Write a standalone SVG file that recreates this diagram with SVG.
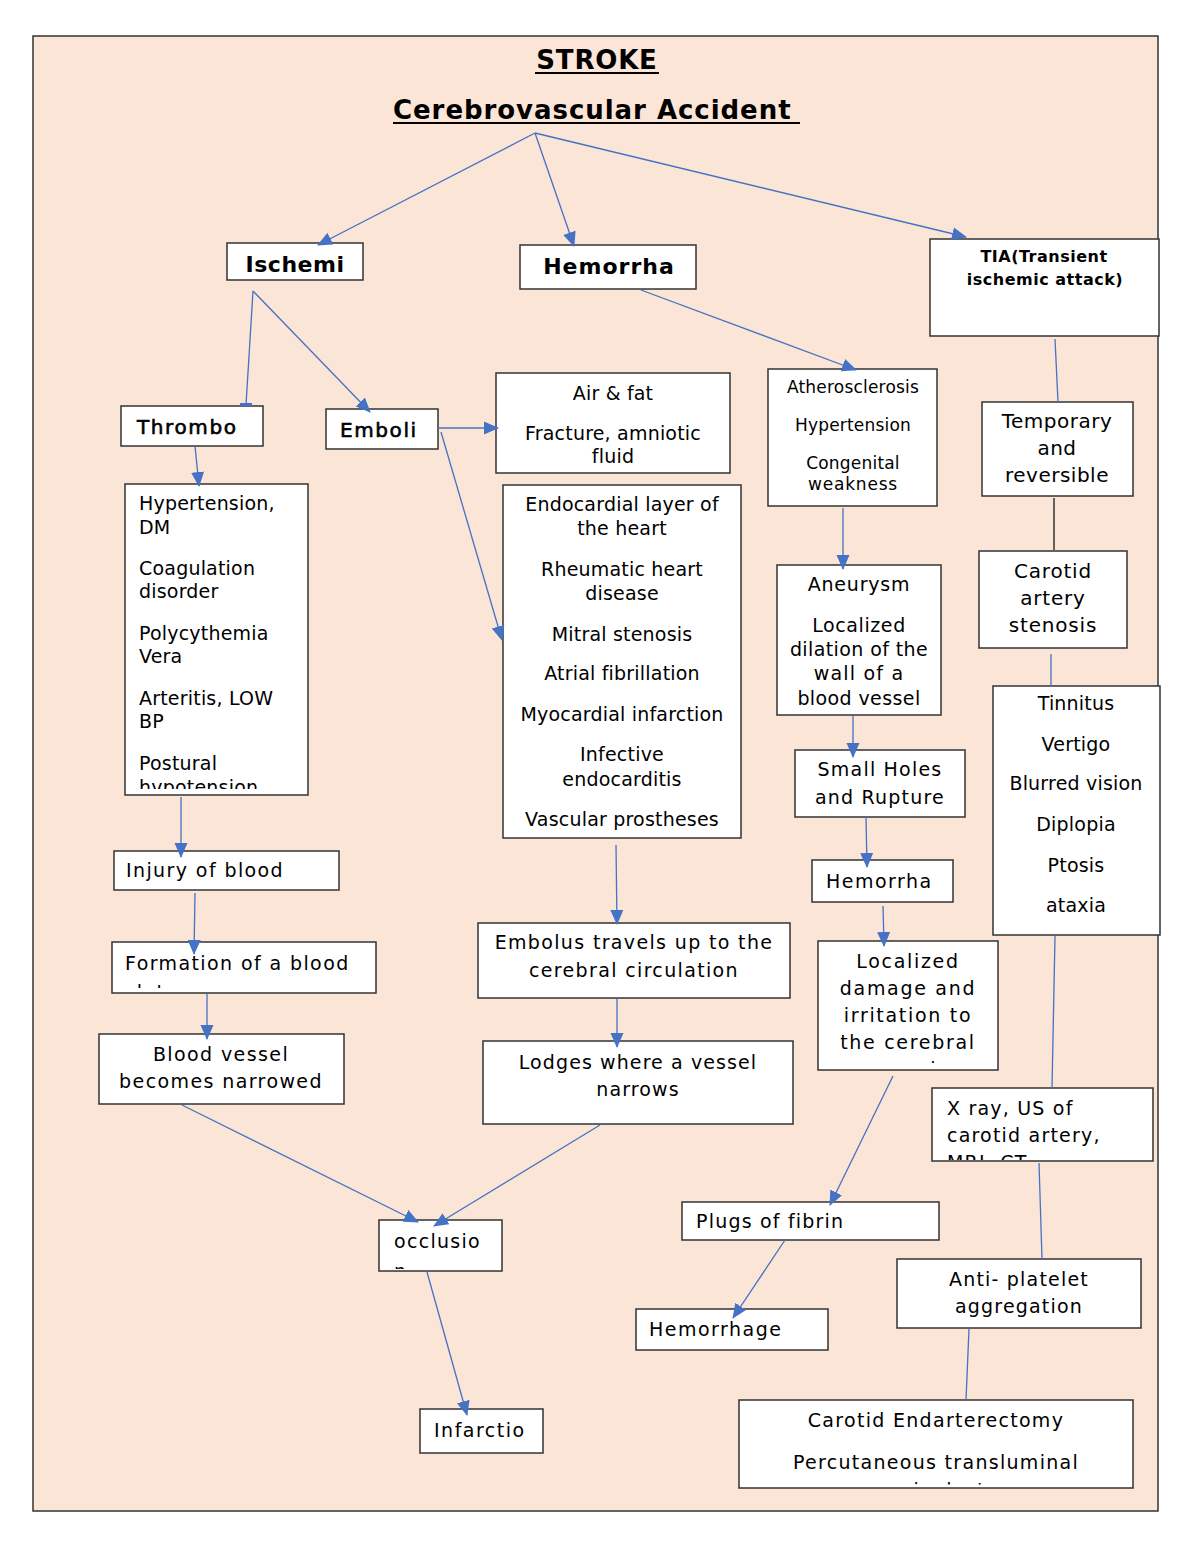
<svg xmlns="http://www.w3.org/2000/svg" width="1200" height="1553" viewBox="0 0 1200 1553">
<style>
text{font-family:"DejaVu Sans","Verdana",sans-serif;fill:#000;}
.box{fill:#fff;stroke:#333;stroke-width:1.5;}
.t{font-size:19px;}
.c{text-anchor:middle;}
.b{font-weight:bold;}
.tight{letter-spacing:0.2px;}
.con{stroke:#4472C4;stroke-width:1.3;fill:none;}
.arr{marker-end:url(#ah);}
</style>
<defs>
<marker id="ah" markerUnits="userSpaceOnUse" markerWidth="15" markerHeight="14" viewBox="0 0 15 14" refX="14" refY="7" orient="auto">
<path d="M0,0.5 L15,7 L0,13.5 z" fill="#4472C4"/>
</marker>
<clipPath id="clThr"><rect x="126" y="485" width="181" height="304"/></clipPath>
<clipPath id="clForm"><rect x="113" y="943" width="262" height="45"/></clipPath>
<clipPath id="clLoc"><rect x="819" y="942" width="178" height="121"/></clipPath>
<clipPath id="clX"><rect x="933" y="1089" width="219" height="71"/></clipPath>
<clipPath id="clOcc"><rect x="380" y="1221" width="121" height="48"/></clipPath>
<clipPath id="clCE"><rect x="740" y="1401" width="392" height="83.5"/></clipPath>
</defs>

<rect id="background" x="33" y="36" width="1125" height="1475" fill="#FBE5D6" stroke="#333" stroke-width="1.5"/>

<g id="title">
<text x="597" y="69" class="c b" font-size="26" letter-spacing="0.8">STROKE</text>
<line x1="535" y1="73" x2="659" y2="73" stroke="#000" stroke-width="2"/>
<text x="393" y="119" class="b" font-size="26" letter-spacing="0.95">Cerebrovascular Accident</text>
<line x1="393" y1="123" x2="800" y2="123" stroke="#000" stroke-width="2"/>
</g>

<g id="ischemi">
<rect class="box" x="227" y="243" width="136" height="37"/>
<text x="295" y="272" class="c b" font-size="22" letter-spacing="0.5">Ischemi</text>
</g>

<g id="hemorrha">
<rect class="box" x="520" y="245" width="176" height="44"/>
<text x="609" y="274" class="c b" font-size="22" letter-spacing="1">Hemorrha</text>
</g>

<g id="tia">
<rect class="box" x="930" y="239" width="229" height="97"/>
<text x="1044" y="262" class="c b" font-size="16" letter-spacing="0.5">TIA(Transient</text>
<text x="1045" y="285" class="c b" font-size="16" letter-spacing="0.5">ischemic attack)</text>
</g>

<g id="thrombo">
<rect class="box" x="121" y="406" width="142" height="40"/>
<text x="137" y="434" font-size="20" letter-spacing="1.6" stroke="#000" stroke-width="0.6">Thrombo</text>
</g>

<g id="emboli">
<rect class="box" x="326" y="409" width="112" height="40"/>
<text x="340" y="437" font-size="20" letter-spacing="1.6" stroke="#000" stroke-width="0.6">Emboli</text>
</g>

<g id="thrombo-causes">
<rect class="box" x="125" y="484" width="183" height="311"/>
<g clip-path="url(#clThr)" class="t tight">
<text x="139" y="510">Hypertension,</text>
<text x="139" y="534">DM</text>
<text x="139" y="575">Coagulation</text>
<text x="139" y="598">disorder</text>
<text x="139" y="640">Polycythemia</text>
<text x="139" y="663">Vera</text>
<text x="139" y="705">Arteritis, LOW</text>
<text x="139" y="728">BP</text>
<text x="139" y="770">Postural</text>
<text x="139" y="794">hypotension</text>
</g>
</g>

<g id="air-fat">
<rect class="box" x="496" y="373" width="234" height="100"/>
<text x="613" y="400" class="t c tight">Air &amp; fat</text>
<text x="613" y="440" class="t c tight">Fracture, amniotic</text>
<text x="613" y="463" class="t c tight">fluid</text>
</g>

<g id="endocardial">
<rect class="box" x="503" y="485" width="238" height="353"/>
<text x="622" y="511" class="t c tight">Endocardial layer of</text>
<text x="622" y="535" class="t c tight">the heart</text>
<text x="622" y="576" class="t c tight">Rheumatic heart</text>
<text x="622" y="600" class="t c tight">disease</text>
<text x="622" y="641" class="t c tight">Mitral stenosis</text>
<text x="622" y="680" class="t c tight">Atrial fibrillation</text>
<text x="622" y="721" class="t c tight">Myocardial infarction</text>
<text x="622" y="761" class="t c tight">Infective</text>
<text x="622" y="786" class="t c tight">endocarditis</text>
<text x="622" y="826" class="t c tight">Vascular prostheses</text>
</g>

<g id="atherosclerosis">
<rect class="box" x="768" y="369" width="169" height="137"/>
<text x="853" y="393" class="c" font-size="17" letter-spacing="0.2">Atherosclerosis</text>
<text x="853" y="431" class="c" font-size="17" letter-spacing="0.2">Hypertension</text>
<text x="853" y="469" class="c" font-size="17" letter-spacing="0.2">Congenital</text>
<text x="853" y="490" class="c" font-size="17" letter-spacing="0.8">weakness</text>
</g>

<g id="aneurysm">
<rect class="box" x="777" y="565" width="164" height="150"/>
<text x="859" y="591" class="t c" letter-spacing="0.8">Aneurysm</text>
<text x="859" y="632" class="t c" letter-spacing="0.6">Localized</text>
<text x="859" y="656" class="t c" letter-spacing="0.4">dilation of the</text>
<text x="859" y="680" class="t c" letter-spacing="1.2">wall of a</text>
<text x="859" y="705" class="t c" letter-spacing="0.4">blood vessel</text>
</g>

<g id="small-holes">
<rect class="box" x="795" y="750" width="170" height="67"/>
<text x="880" y="776" class="t c" letter-spacing="1.2">Small Holes</text>
<text x="880" y="804" class="t c" letter-spacing="1.2">and Rupture</text>
</g>

<g id="hemorrha-2">
<rect class="box" x="812" y="860" width="141" height="42"/>
<text x="826" y="888" class="t" letter-spacing="1.5">Hemorrha</text>
</g>

<g id="localized-damage">
<rect class="box" x="818" y="941" width="180" height="129"/>
<g clip-path="url(#clLoc)" class="t c" letter-spacing="1.7">
<text x="908" y="968">Localized</text>
<text x="908" y="995">damage and</text>
<text x="908" y="1022">irritation to</text>
<text x="908" y="1049">the cerebral</text>
<text x="908" y="1076">vessels</text>
</g>
</g>

<g id="plugs-fibrin">
<rect class="box" x="682" y="1202" width="257" height="38"/>
<text x="696" y="1228" class="t" letter-spacing="1.2">Plugs of fibrin</text>
</g>

<g id="hemorrhage">
<rect class="box" x="636" y="1309" width="192" height="41"/>
<text x="649" y="1336" class="t" letter-spacing="1.5">Hemorrhage</text>
</g>

<g id="temporary">
<rect class="box" x="982" y="402" width="151" height="94"/>
<text x="1057" y="428" class="c" font-size="20" letter-spacing="0.5">Temporary</text>
<text x="1057" y="455" class="c" font-size="20" letter-spacing="0.5">and</text>
<text x="1057" y="482" class="c" font-size="20" letter-spacing="0.5">reversible</text>
</g>

<g id="carotid-stenosis">
<rect class="box" x="979" y="551" width="148" height="97"/>
<text x="1053" y="578" class="c" font-size="20" letter-spacing="0.8">Carotid</text>
<text x="1053" y="605" class="c" font-size="20" letter-spacing="0.8">artery</text>
<text x="1053" y="632" class="c" font-size="20" letter-spacing="0.8">stenosis</text>
</g>

<g id="symptoms">
<rect class="box" x="993" y="686" width="167" height="249"/>
<text x="1076" y="710" class="t c tight">Tinnitus</text>
<text x="1076" y="751" class="t c tight">Vertigo</text>
<text x="1076" y="790" class="t c tight">Blurred vision</text>
<text x="1076" y="831" class="t c tight">Diplopia</text>
<text x="1076" y="872" class="t c tight">Ptosis</text>
<text x="1076" y="912" class="t c tight">ataxia</text>
</g>

<g id="xray">
<rect class="box" x="932" y="1088" width="221" height="73"/>
<g clip-path="url(#clX)" class="t" letter-spacing="1.2">
<text x="947" y="1115">X ray, US of</text>
<text x="947" y="1142">carotid artery,</text>
<text x="947" y="1169">MRI, CT</text>
</g>
</g>

<g id="anti-platelet">
<rect class="box" x="897" y="1259" width="244" height="69"/>
<text x="1019" y="1286" class="t c" letter-spacing="1.2">Anti- platelet</text>
<text x="1019" y="1313" class="t c" letter-spacing="1.2">aggregation</text>
</g>

<g id="carotid-endarterectomy">
<rect class="box" x="739" y="1400" width="394" height="88"/>
<g clip-path="url(#clCE)" class="t c" letter-spacing="1.3">
<text x="936" y="1427">Carotid Endarterectomy</text>
<text x="936" y="1469">Percutaneous transluminal</text>
<text x="936" y="1497">angioplasty</text>
</g>
</g>

<g id="injury">
<rect class="box" x="114" y="851" width="225" height="39"/>
<text x="126" y="877" class="t" letter-spacing="1.4">Injury of blood</text>
</g>

<g id="formation">
<rect class="box" x="112" y="942" width="264" height="51"/>
<g clip-path="url(#clForm)" class="t" letter-spacing="1.4">
<text x="125" y="970">Formation of a blood</text>
<text x="125" y="999">clot</text>
</g>
</g>

<g id="blood-vessel">
<rect class="box" x="99" y="1034" width="245" height="70"/>
<text x="221" y="1061" class="t c" letter-spacing="1.4">Blood vessel</text>
<text x="221" y="1088" class="t c" letter-spacing="1.4">becomes narrowed</text>
</g>

<g id="embolus">
<rect class="box" x="478" y="923" width="312" height="75"/>
<text x="634" y="949" class="t c" letter-spacing="1.35">Embolus travels up to the</text>
<text x="634" y="977" class="t c" letter-spacing="1.35">cerebral circulation</text>
</g>

<g id="lodges">
<rect class="box" x="483" y="1041" width="310" height="83"/>
<text x="638" y="1069" class="t c" letter-spacing="1.1">Lodges where a vessel</text>
<text x="638" y="1096" class="t c" letter-spacing="1.1">narrows</text>
</g>

<g id="occlusion">
<rect class="box" x="379" y="1220" width="123" height="51"/>
<g clip-path="url(#clOcc)" class="t" letter-spacing="1.3">
<text x="394" y="1248">occlusio</text>
<text x="394" y="1278">n</text>
</g>
</g>

<g id="infarction">
<rect class="box" x="420" y="1409" width="123" height="44"/>
<text x="434" y="1437" class="t" letter-spacing="1.5">Infarctio</text>
</g>

<g id="connectors">
<line class="con arr" x1="535" y1="133" x2="318" y2="245"/>
<line class="con arr" x1="535" y1="133" x2="574" y2="246"/>
<line class="con arr" x1="535" y1="133" x2="966" y2="237"/>
<line class="con" x1="253" y1="291" x2="246" y2="405"/>
<rect x="240" y="403" width="12" height="3" fill="#4472C4"/>
<line class="con arr" x1="253" y1="291" x2="370" y2="412"/>
<line class="con arr" x1="195" y1="446" x2="199" y2="486"/>
<line class="con arr" x1="438" y1="428" x2="498" y2="428"/>
<line class="con arr" x1="441" y1="432" x2="502" y2="640"/>
<line class="con arr" x1="641" y1="290" x2="856" y2="370"/>
<line class="con arr" x1="843" y1="508" x2="843" y2="569"/>
<line class="con arr" x1="853" y1="716" x2="853" y2="757"/>
<line class="con arr" x1="866" y1="817" x2="867" y2="867"/>
<line class="con arr" x1="883" y1="906" x2="884" y2="946"/>
<line class="con arr" x1="893" y1="1076" x2="830" y2="1205"/>
<line class="con arr" x1="785" y1="1240" x2="733" y2="1318"/>
<line class="con" x1="1055" y1="339" x2="1058" y2="402"/>
<line x1="1054" y1="498" x2="1054" y2="550" stroke="#333" stroke-width="1.5"/>
<line class="con" x1="1051" y1="654" x2="1051" y2="687"/>
<line class="con" x1="1055" y1="936" x2="1052" y2="1088"/>
<line class="con" x1="1039" y1="1163" x2="1042" y2="1259"/>
<line class="con" x1="969" y1="1329" x2="966" y2="1400"/>
<line class="con arr" x1="181" y1="797" x2="181" y2="857"/>
<line class="con arr" x1="195" y1="893" x2="194" y2="954"/>
<line class="con arr" x1="207" y1="994" x2="207" y2="1039"/>
<line class="con arr" x1="182" y1="1105" x2="418" y2="1222"/>
<line class="con arr" x1="616" y1="845" x2="617" y2="924"/>
<line class="con arr" x1="617" y1="999" x2="617" y2="1047"/>
<line class="con arr" x1="600" y1="1125" x2="434" y2="1226"/>
<line class="con arr" x1="427" y1="1272" x2="467" y2="1415"/>
</g>
</svg>
